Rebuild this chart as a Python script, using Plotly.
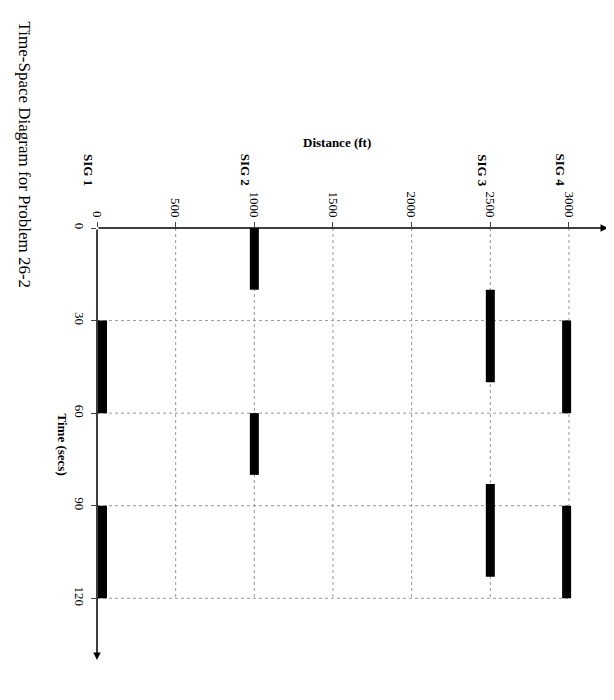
import plotly.graph_objects as go

signals = ["SIG 1", "SIG 2", "SIG 3", "SIG 4"]
sig_pos = [0, 1000, 2500, 3000]
bar_pos = [35, 1000, 2500, 2985]
red_start = [[30, 90], [0, 60], [20, 83], [30, 90]]
red_end = [[60, 120], [20, 80], [50, 113], [60, 120]]
x_ticks = [0, 500, 1000, 1500, 2000, 2500, 3000]
y_ticks = [0, 30, 60, 90, 120]

F = "Liberation Serif"
fig = go.Figure()
gx, gy = [], []
for v in x_ticks[1:]:
    gx += [v, v, None]; gy += [0, y_ticks[-1], None]
for v in y_ticks[1:]:
    gx += [0, x_ticks[-1], None]; gy += [v, v, None]
fig.add_trace(go.Scatter(x=gx, y=gy, mode="lines", line=dict(color="#999", width=1, dash="dot"),
                         showlegend=False, hoverinfo="skip"))
for i in range(len(signals)):
    xs, ys = [], []
    for s, e in zip(red_start[i], red_end[i]):
        xs += [bar_pos[i], bar_pos[i], None]
        ys += [s, e, None]
    fig.add_trace(go.Scatter(x=xs, y=ys, mode="lines", line=dict(color="black", width=9), showlegend=False))

XMAX, YMAX = 3248, 140
fig.update_xaxes(range=[0, XMAX], side="top", tickvals=x_ticks, ticktext=[str(v) for v in x_ticks],
                 tickangle=90, ticks="outside", ticklen=5, showgrid=False, automargin=False,
                 zeroline=False, showline=False, tickfont=dict(family=F, size=13, color="black"))
fig.update_yaxes(range=[YMAX, 0], tickvals=y_ticks, tickangle=90, ticks="outside", ticklen=5, showgrid=False,
                 automargin=False, zeroline=False, showline=False,
                 tickfont=dict(family=F, size=13, color="black"))

ann = []
ann.append(dict(x=XMAX, y=0, ax=0, ay=0, xref="x", yref="y", axref="x", ayref="y", showarrow=True,
                arrowhead=2, arrowsize=1, arrowwidth=1.5, arrowcolor="black", text=""))
ann.append(dict(x=0, y=YMAX, ax=0, ay=0, xref="x", yref="y", axref="x", ayref="y", showarrow=True,
                arrowhead=2, arrowsize=1, arrowwidth=1.5, arrowcolor="black", text=""))
for s, p in zip(signals, sig_pos):
    ann.append(dict(x=p, y=1, xref="x", yref="paper", yshift=76, text="<b>%s</b>" % s, textangle=90,
                    showarrow=False, font=dict(family=F, size=13, color="black"), xshift=-8))
ann.append(dict(x=0.47, y=1, xref="paper", yref="paper", yshift=95, text="<b>Distance (ft)</b>",
                showarrow=False, font=dict(family=F, size=13, color="black")))
ann.append(dict(x=0, y=0.5, xref="paper", yref="paper", xshift=-44, text="<b>Time (secs)</b>", textangle=90,
                showarrow=False, font=dict(family=F, size=13, color="black")))
ann.append(dict(x=0, y=1, xref="paper", yref="paper", xshift=-84, yshift=73, yanchor="middle",
                text="Time-Space Diagram for Problem 26-2", textangle=90,
                showarrow=False, font=dict(family=F, size=17, color="black")))
fig.update_layout(annotations=ann, width=614, height=700, margin=dict(l=89, r=14, t=220, b=48),
                  plot_bgcolor="white", paper_bgcolor="white")
fig.write_html("out.html")
